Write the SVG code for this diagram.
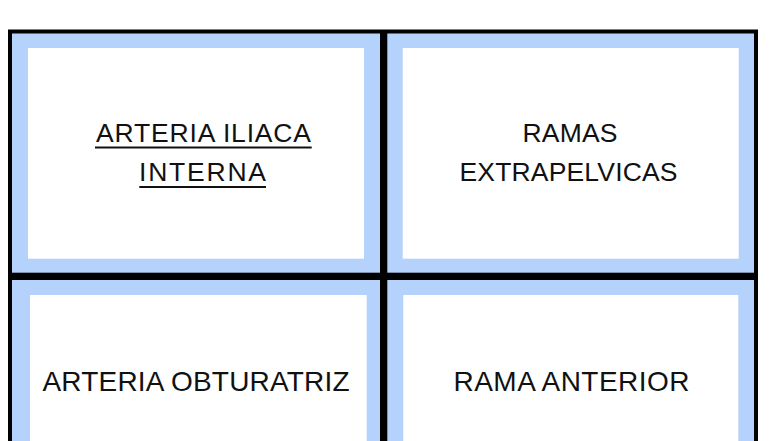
<svg xmlns="http://www.w3.org/2000/svg" width="784" height="441" viewBox="0 0 784 441">
<style>
.frame{fill:#000000}
.band{fill:#b5d2fd}
.inner{fill:#ffffff}
.t{font-family:"Liberation Sans","Arial",sans-serif;fill:#111111;font-size:26.5px}
.tb{font-family:"Liberation Sans","Arial",sans-serif;fill:#111111;font-size:28px}
.ul{stroke:#111111;stroke-width:2}
</style>
<rect width="784" height="441" fill="#ffffff"/>
<rect class="frame" x="8" y="29.5" width="750" height="430"/>
<g id="cell-tl">
<rect class="band" x="12" y="33.5" width="368" height="239.2"/>
<rect class="inner" x="28" y="48" width="336" height="210.7"/>
<text class="t" x="96" y="141.5" textLength="215" lengthAdjust="spacing">ARTERIA ILIACA</text>
<text class="t" x="139" y="181" textLength="127" lengthAdjust="spacing">INTERNA</text>
<line class="ul" x1="95" y1="147.5" x2="311.7" y2="147.5"/>
<line class="ul" x1="139.3" y1="187" x2="266" y2="187"/>
</g>
<g id="cell-tr">
<rect class="band" x="387.3" y="33.5" width="366.7" height="239.2"/>
<rect class="inner" x="402.7" y="48" width="336" height="210.7"/>
<text class="t" x="522.5" y="141.5" textLength="95" lengthAdjust="spacing">RAMAS</text>
<text class="t" x="459.5" y="181" textLength="218" lengthAdjust="spacing">EXTRAPELVICAS</text>
</g>
<g id="cell-bl">
<rect class="band" x="12" y="280" width="368" height="180"/>
<rect class="inner" x="30" y="295" width="336.7" height="165"/>
<text class="tb" x="42.5" y="391" textLength="307" lengthAdjust="spacing">ARTERIA OBTURATRIZ</text>
</g>
<g id="cell-br">
<rect class="band" x="387.3" y="280" width="366.7" height="180"/>
<rect class="inner" x="403.3" y="295" width="335" height="165"/>
<text class="tb" x="453.5" y="391" textLength="236" lengthAdjust="spacing">RAMA ANTERIOR</text>
</g>
<g id="connectors"></g>
</svg>
